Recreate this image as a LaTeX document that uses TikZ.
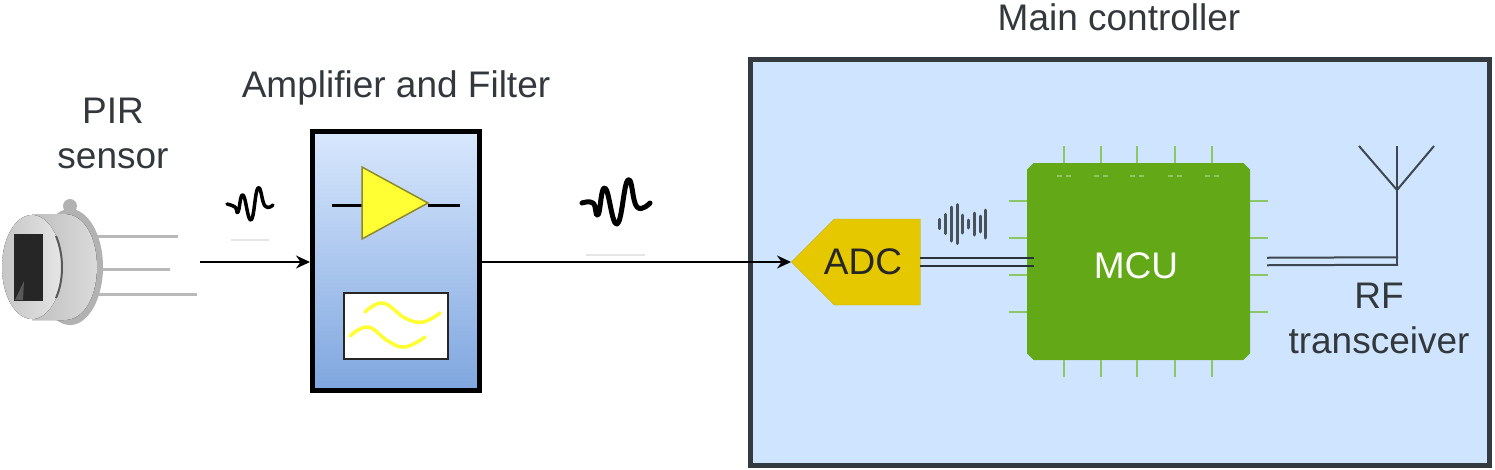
\documentclass[tikz,border=0pt]{standalone}
\usepackage{fontspec}
\setmainfont{Liberation Sans}
\usepackage{tikz}
\usetikzlibrary{arrows.meta, shapes.symbols, shapes.misc}

\definecolor{panelblue}{HTML}{CFE5FF}
\definecolor{panelline}{HTML}{333B40}
\definecolor{textgrey}{HTML}{33383C}
\definecolor{chipgreen}{HTML}{62A817}
\definecolor{pingreen}{HTML}{8CC665}
\definecolor{adcyellow}{HTML}{E6C800}
\definecolor{ampyellow}{HTML}{FFFF33}
\definecolor{busdark}{HTML}{29323C}
\definecolor{amptop}{HTML}{D8E8FD}
\definecolor{ampbottom}{HTML}{7FA6DF}

\begin{document}
\begin{tikzpicture}[x=1pt, y=-1pt]
        % Define node styles
        \tikzstyle{title} = [text=textgrey, align=center, font=\fontsize{37}{45}\selectfont]
        \tikzstyle{panel} = [draw=panelline, line width=5pt, fill=panelblue, rectangle, minimum width=738.5pt, minimum height=406pt]
        \tikzstyle{ampbox} = [draw=black, line width=5pt, rectangle, minimum width=167pt, minimum height=259pt, top color=amptop, bottom color=ampbottom]
        \tikzstyle{adcbox} = [draw=adcyellow!85!black, fill=adcyellow, signal, signal to=west, signal pointer angle=90, minimum width=129pt, minimum height=86pt, inner sep=0pt]
        \tikzstyle{mcubox} = [fill=chipgreen, chamfered rectangle, chamfered rectangle xsep=9pt, chamfered rectangle ysep=9pt, minimum width=223pt, minimum height=197pt]
        \tikzstyle{bus} = [busdark, line width=2pt]
        \tikzstyle{link} = [-{Stealth[length=14pt, width=13pt]}, line width=1.6pt]
        \tikzstyle{pinline} = [pingreen, line width=2.5pt]
        \tikzstyle{wire} = [black, line width=3pt]
        \tikzstyle{lead} = [gray!55, line width=3pt]
        \tikzstyle{blip} = [black, line width=3.5pt, line join=round, line cap=round]

        \useasboundingbox (0,0) rectangle (1495,469);

        % Draw the nodes
        \node[panel] (main) at (1119.75,262) {};
        \node[ampbox] (amp) at (396,261) {};
        \node[adcbox, anchor=west] (adc) at (791,262) {};
        \node[text=black!85, font=\fontsize{37}{45}\selectfont] (adctext) at (863,262) {ADC};
        \node[mcubox] (mcu) at (1138.5,261.5) {};
        \node[text=white, font=\fontsize{37}{45}\selectfont] (mcutext) at (1136,266) {MCU};
        \coordinate (pirout) at (200,262);
        \coordinate (mast) at (1397,261);
        \coordinate (masttop) at (1397,146);

        % Titles
        \node[title] (pirlabel) at (113,133) {PIR\\sensor};
        \node[title] (amplabel) at (396,88) {Amplifier and Filter};
        \node[title] (mainlabel) at (1119,17) {Main controller};
        \node[title] (rflabel) at (1379,318) {RF\\transceiver};

        % PIR sensor body
        \foreach \y/\e in {236/178, 269/170, 294/197}
            \draw[lead] (95,\y) -- (\e,\y);
        \fill[gray!60] (70,206) ellipse (7 and 7);
        \fill[gray!60] (70,267) ellipse (33 and 58);
        \fill[left color=gray!50, right color=gray!25] (32,214) -- (64,214) .. controls (108,214) and (108,320) .. (64,320) -- (32,320) -- cycle;
        \fill[left color=gray!45, right color=gray!20] (32,267) ellipse (30 and 52);
        \draw[gray!70!black, line width=2pt] (56,236) .. controls (64,255) and (64,280) .. (56,298);
        \fill[black!85] (14,234) rectangle (43,301);
        \fill[gray!70!black] (15,300) -- (24,281) -- (23,300) -- cycle;

        % Signal above the first arrow
        \draw[blip] plot[smooth, tension=0.8] coordinates {(227,204) (235,207) (238,212) (243,195) (251,220) (258,188) (265,206) (273,205)};
        \draw[gray!20, line width=1.5pt] (231,240) -- (269,240);

        % Amplifier and filter symbols
        \draw[wire] (332,205) -- (362,205);
        \draw[wire] (428,205) -- (460,205);
        \draw[fill=ampyellow, draw=olive!70!gray, line width=1.5pt] (362,167) -- (428,203) -- (362,239) -- cycle;
        \draw[fill=white, draw=black!85, line width=2pt] (344,293) rectangle (448,359);
        \draw[ampyellow, line width=3.5pt, line cap=round] plot[smooth, tension=0.7] coordinates {(365,312) (383,303) (405,318) (423,322) (440,313)};
        \draw[ampyellow, line width=3.5pt, line cap=round] plot[smooth, tension=0.7] coordinates {(350,336) (368,327) (388,341) (405,347) (425,337)};

        % Signal above the second arrow
        \draw[blip, line width=5pt] plot[smooth, tension=0.8] coordinates {(582,203) (593,203) (598,215) (605,188) (617,224) (628,180) (637,207) (650,203)};
        \draw[gray!20, line width=2.5pt] (586,255) -- (645,255);

        % Sampled signal
        \foreach \x/\h in {939.5/4.7, 945/9.7, 951/17, 957/19.5, 962.5/9, 968.5/4, 974/11, 980/8, 985.5/14}
            \draw[busdark!85, line width=3pt, line cap=round] (\x,224-\h) -- (\x,224+\h);

        % MCU pins
        \foreach \x in {1064,1101,1137,1175,1212} {
            \draw[pinline] (\x,146) -- (\x,163);
            \draw[pinline] (\x,360) -- (\x,377);
            \draw[pingreen, line width=1.2pt, dash pattern=on 5pt off 4pt] (\x-7,176) -- (\x+9,176);
        }
        \foreach \y in {201,238,275,312} {
            \draw[pinline] (1009,\y) -- (1027,\y);
            \draw[pinline] (1250,\y) -- (1268,\y);
        }

        % Antenna
        \draw[busdark!90, line width=2pt] ([yshift=-4.75pt]mast) -- (masttop);
        \draw[busdark!90, line width=2pt] (1359,146) -- (1397,190) -- (1434,146);

        % Draw the connectors
        \draw[link] (pirout) -- (amp.west |- pirout);
        \draw[link] (amp.east |- adc.west) -- (adc.west);
        \foreach \d in {-3.75,3.75} {
            \draw[bus] ([yshift=\d pt]adc.east) -- ([xshift=7pt, yshift=\d pt]adc.east -| mcu.west);
            \draw[bus, busdark!90] ([xshift=17pt, yshift=\d pt]mcu.east) -- ([xshift=1pt, yshift=\d pt]mast);
        }
\end{tikzpicture}
\end{document}
